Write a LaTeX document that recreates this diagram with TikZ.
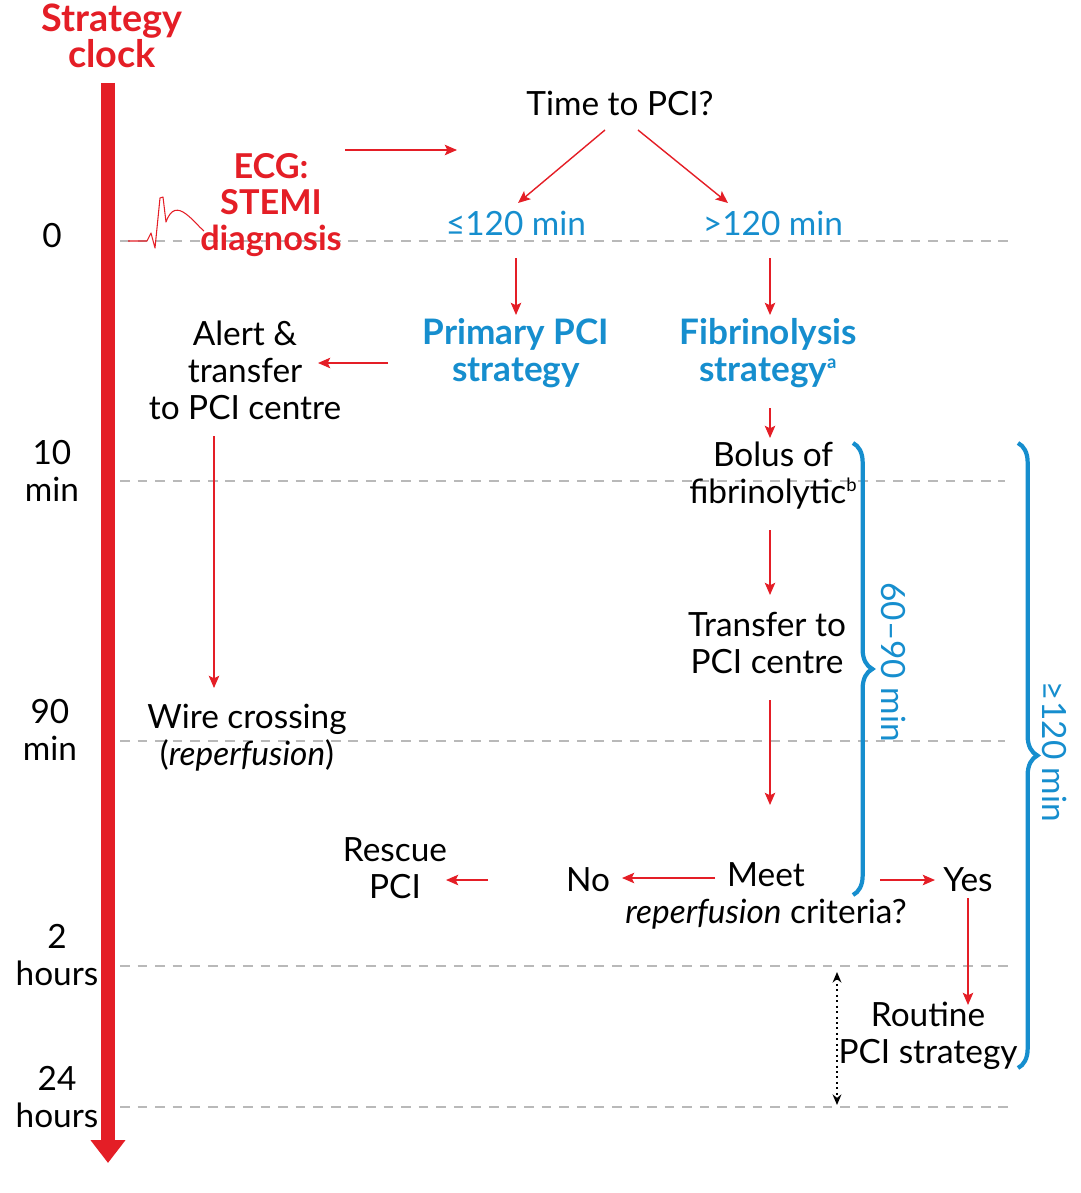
\documentclass[tikz,border=0pt]{standalone}
\usepackage{fontspec}
\setmainfont{Lato}
\usepackage{xcolor}
\usepackage{tikz}
\usetikzlibrary{calc}
\usetikzlibrary{arrows.meta}
\usetikzlibrary{decorations.pathreplacing}

\definecolor{clockred}{RGB}{228,30,38}
\definecolor{pciblue}{RGB}{22,142,206}

\newcommand{\footmark}[1]{\raisebox{0.36em}{\fontsize{10.5}{10.5}\selectfont #1}}

\begin{document}
\begin{tikzpicture}[x=0.02cm,y=-0.02cm,
        txt/.style={align=center,inner sep=1pt,font=\fontsize{19}{21}\selectfont},
        redbold/.style={txt,text=clockred,font=\fontsize{19.5}{20.5}\selectfont\bfseries},
        bluetxt/.style={txt,text=pciblue},
        bluebold/.style={txt,text=pciblue,font=\fontsize{20}{21}\selectfont\bfseries},
        flow/.style={draw=clockred,line width=0.8pt,-{Stealth[length=7pt,width=6pt,inset=1.5pt]}},
        timeline/.style={draw=gray!55,line width=0.7pt,dash pattern=on 5.5pt off 4.5pt},
        span/.style={draw=pciblue,line width=2.4pt,decorate,decoration={brace,amplitude=11pt}}]
        \useasboundingbox (0,0) rectangle (1080,1193);

        % time grid
        \foreach \y/\xe in {241/1015,481/1005,741/1005,966/1010,1107/1010}
            \draw[timeline] (120,\y) -- (\xe,\y);

        % strategy clock
        \node[redbold,font=\fontsize{21.5}{19.5}\selectfont\bfseries] (clock) at (112,36) {Strategy\\clock};
        \draw[clockred,line width=8pt,-{Triangle[length=13pt,width=19pt]}] (108,83) -- (108,1163);
        \node[txt] (t0) at (52,236) {0};
        \node[txt] (t10) at (52,471) {10\\min};
        \node[txt] (t90) at (50,730) {90\\min};
        \node[txt] (t2) at (57,955) {2\\hours};
        \node[txt] (t24) at (57,1097) {24\\hours};

        % ECG trace
        \draw[clockred,line width=0.6pt,line join=round]
            (128,241) -- (147,241) -- (151,233) -- (155,248) -- (160,198) -- (163,197)
            -- (166,222) .. controls (171,208) and (178,208) .. (186,214)
            .. controls (194,220) and (199,227) .. (204,231);
        \node[redbold] (ecg) at (271,205) {ECG:\\STEMI\\diagnosis};

        \node[txt] (time) at (620,103) {Time to PCI?};
        \node[bluetxt] (le) at (516,223) {≤120 min};
        \node[bluetxt] (gt) at (773,223) {>120 min};
        \node[bluebold] (primary) at (516,353) {Primary PCI\\strategy};
        \node[bluebold] (fibrin) at (768,353) {Fibrinolysis\\strategy\footmark{a}};
        \node[txt] (alert) at (245,370) {Alert \&\\transfer\\to PCI centre};
        \node[txt] (wire) at (247,738) {Wire crossing\\(\textit{reperfusion})};
        \node[txt] (bolus) at (773,476) {Bolus of\\fibrinolytic\footmark{b}};
        \node[txt] (transfer) at (767,643) {Transfer to\\PCI centre};
        \node[txt] (meet) at (766,896) {Meet\\\textit{reperfusion} criteria?};
        \node[txt] (no) at (588,880) {No};
        \node[txt] (rescue) at (395,868) {Rescue\\PCI};
        \node[txt] (yes) at (968,880) {Yes};
        \node[txt] (routine) at (928,1036) {Routine\\PCI strategy};

        \draw[flow] ($(ecg)+(74,-55)$) -- ($(time)+(-163,47)$);
        \draw[flow] ($(time)+(-15,27)$) -- ($(le)+(2,-20)$);
        \draw[flow] ($(time)+(18,27)$) -- ($(gt)+(-45,-20)$);
        \draw[flow] ($(le)+(0,35)$) -- ($(primary)+(0,-38)$);
        \draw[flow] ($(gt)+(-3,35)$) -- ($(fibrin)+(2,-38)$);
        \draw[flow] ($(primary)+(-128,10)$) -- ($(alert)+(73,-7)$);
        \draw[flow] ($(alert)+(-31,66)$) -- ($(wire)+(-33,-50)$);
        \draw[flow] ($(fibrin)+(2,55)$) -- ($(bolus)+(-3,-38)$);
        \draw[flow] ($(bolus)+(-3,54)$) -- ($(transfer)+(3,-48)$);
        \draw[flow] ($(transfer)+(3,57)$) -- ($(meet)+(4,-91)$);
        \draw[flow] ($(meet)+(-51,-18)$) -- ($(no)+(34,-2)$);
        \draw[flow] ($(no)+(-100,0)$) -- ($(rescue)+(51,12)$);
        \draw[flow] ($(meet)+(114,-16)$) -- ($(yes)+(-33,0)$);
        \draw[flow] ($(yes)+(0,18)$) -- ($(routine)+(40,-31)$);

        % 2 h -- 24 h window
        \coordinate (h2) at (837,972);
        \coordinate (h24) at (837,1105);
        \draw[dotted,line width=1.1pt,{Stealth[length=6pt,width=5pt]}-{Stealth[length=6pt,width=5pt]}] (h2) -- (h24);

        % spans
        \draw[span] (853,443) -- (853,895);
        \node[bluetxt,rotate=-90] (short) at (894,662) {60–90 min};
        \draw[span] (1018,443) -- (1018,1068);
        \node[bluetxt,rotate=-90] (long) at (1055,752) {≥120 min};
\end{tikzpicture}
\end{document}
